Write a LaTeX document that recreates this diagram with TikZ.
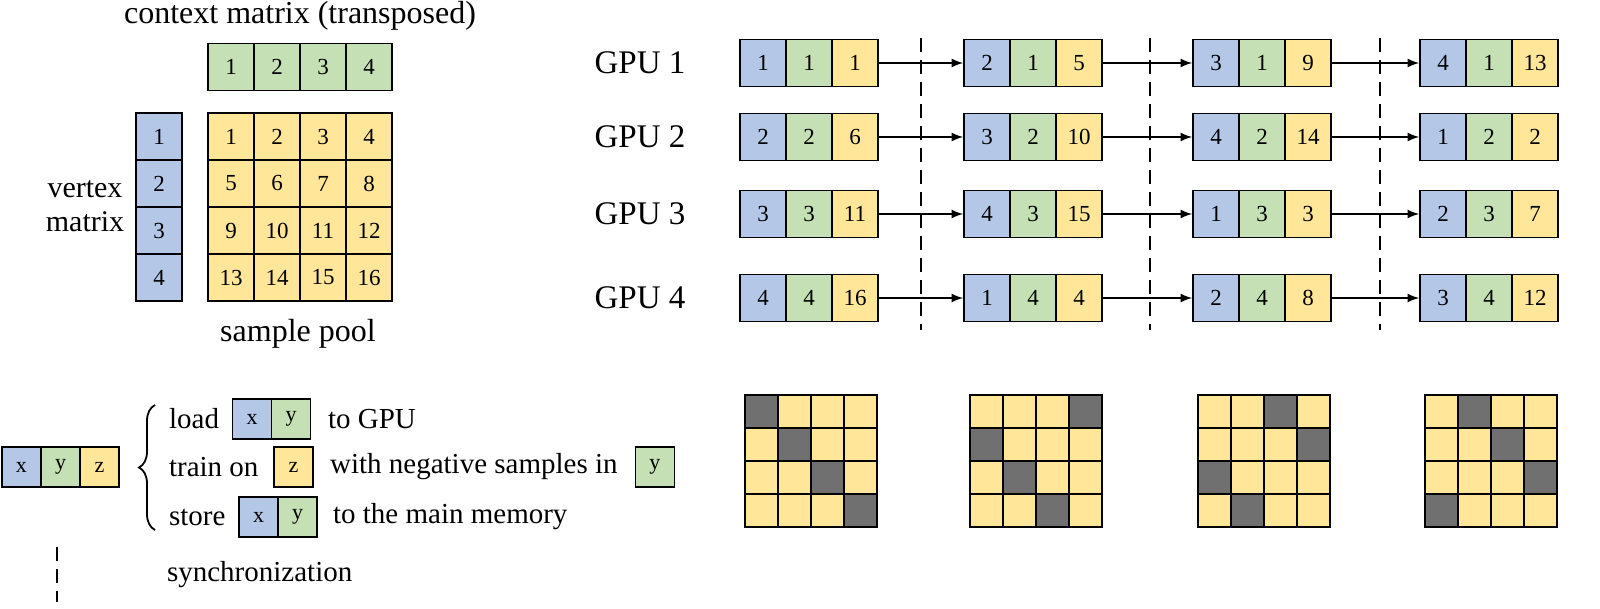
\documentclass[tikz,border=0pt]{standalone}
\usepackage{fontspec}
\setmainfont{Liberation Serif}
\usetikzlibrary{decorations.pathreplacing}
\definecolor{cb}{HTML}{B4C7E7}
\definecolor{cg}{HTML}{C5E0B4}
\definecolor{cy}{HTML}{FFE699}
\definecolor{cd}{HTML}{707070}
\begin{document}
\begin{tikzpicture}[x=0.5pt,y=-0.5pt,
 cell/.style={draw,line width=0.8pt,minimum width=23pt,minimum height=23.5pt,inner sep=0pt,font=\fontsize{11.5}{12}\selectfont},
 lcell/.style={draw,line width=0.8pt,minimum width=19.5pt,minimum height=20pt,inner sep=0pt,font=\fontsize{11}{12}\selectfont},
 gcell/.style={draw,line width=0.6pt},
 lab/.style={font=\fontsize{16}{18}\selectfont},
 llab/.style={font=\fontsize{14.5}{17}\selectfont,anchor=west},
 glab/.style={font=\fontsize{16.5}{18}\selectfont},
 sync/.style={line width=1.2pt,dash pattern=on 7pt off 4pt},
 arr/.style={->,>=latex,line width=1pt}]
\useasboundingbox (0,0) rectangle (1600,609);
% context matrix
\node[lab] (ctl) at (300,16) {context matrix (transposed)};
\foreach \i in {1,...,4}{
  \node[cell,fill=cg] (c\i) at ({208+46*(\i-1)+23},67) {\i};
  \node[cell,fill=cb] (v\i) at (159,{113+47*(\i-1)+23.5}) {\i};
  \foreach \j in {1,...,4}{
    \pgfmathtruncatemacro\n{(\i-1)*4+\j}
    \node[cell,fill=cy] (s\i\j) at ({208+46*(\j-1)+23},{113+47*(\i-1)+23.5}) {\n};
  }
}
\node[lab,align=center,font=\fontsize{15}{17}\selectfont] (vm) at (85,206) {vertex\\matrix};
\node[lab] (sp) at (298,334) {sample pool};
% GPU rows
\foreach \r/\ys in {1/63,2/137,3/214,4/298}{
  \node[glab] (g\r) at (640,\ys) {GPU \r};
}
\foreach \r/\ys/\a/\b/\c/\d/\e/\f/\g/\h/\k/\l/\m/\n in {
 1/63/1/1/1/2/1/5/3/1/9/4/1/13,
 2/137/2/2/6/3/2/10/4/2/14/1/2/2,
 3/214/3/3/11/4/3/15/1/3/3/2/3/7,
 4/298/4/4/16/1/4/4/2/4/8/3/4/12}{
 \foreach \t/\x/\p/\q/\s in {1/740/\a/\b/\c,2/964/\d/\e/\f,3/1193/\g/\h/\k,4/1420/\l/\m/\n}{
   \node[cell,fill=cb] (r\r t\t a) at ({\x+23},\ys) {\p};
   \node[cell,fill=cg] (r\r t\t b) at ({\x+69},\ys) {\q};
   \node[cell,fill=cy] (r\r t\t c) at ({\x+115},\ys) {\s};
 }
 \draw[arr] (r\r t1c.east) -- (r\r t2a.west);
 \draw[arr] (r\r t2c.east) -- (r\r t3a.west);
 \draw[arr] (r\r t3c.east) -- (r\r t4a.west);
}
\foreach \x in {921,1150,1380}{
  \coordinate (st\x) at (\x,38); \coordinate (se\x) at (\x,330);
  \draw[sync] (st\x) -- (se\x);
}
% grids
\foreach \gx/\d in {745/{0,1,2,3},970/{3,0,1,2},1198/{2,3,0,1},1425/{1,2,3,0}}{
  \foreach \rr [count=\ri from 0] in \d {
    \foreach \cc in {0,...,3}{
      \ifnum\cc=\rr \def\fc{cd}\else\def\fc{cy}\fi
      \draw[gcell,fill=\fc] ({\gx+33*\cc},{395+33*\ri}) rectangle ++(33,33);
    }
  }
}
% legend
\node[lcell,fill=cb] (lx) at (21.5,467) {x};
\node[lcell,fill=cg] (ly) at (60.5,467) {y};
\node[lcell,fill=cy] (lz) at (99.5,467) {z};
\draw[decorate,decoration={brace,amplitude=8pt},line width=0.9pt] (155,530) -- (155,405);
\node[llab] (t1) at (162,419) {load};
\node[lcell,fill=cb] (l1x) at (252,419) {x};
\node[lcell,fill=cg] (l1y) at (291,419) {y};
\node[llab] (t1b) at (321,419) {to GPU};
\node[llab] (t2) at (162,467) {train on};
\node[lcell,fill=cy] (l2z) at (293.5,467) {z};
\node[llab] (t2b) at (323,467) {with negative samples in};
\node[lcell,fill=cg,anchor=west] (l2y) at ([xshift=5pt]t2b.east) {y};
\node[llab] (t3) at (162,517) {store};
\node[lcell,fill=cb] (l3x) at (258.5,517) {x};
\node[lcell,fill=cg] (l3y) at (297.5,517) {y};
\node[llab] (t3b) at (326,517) {to the main memory};
\coordinate (ls) at (57,547); \coordinate (le) at (57,602);
\draw[sync] (ls) -- (le);
\node[llab] (sy) at (160,575) {synchronization};
\end{tikzpicture}
\end{document}
